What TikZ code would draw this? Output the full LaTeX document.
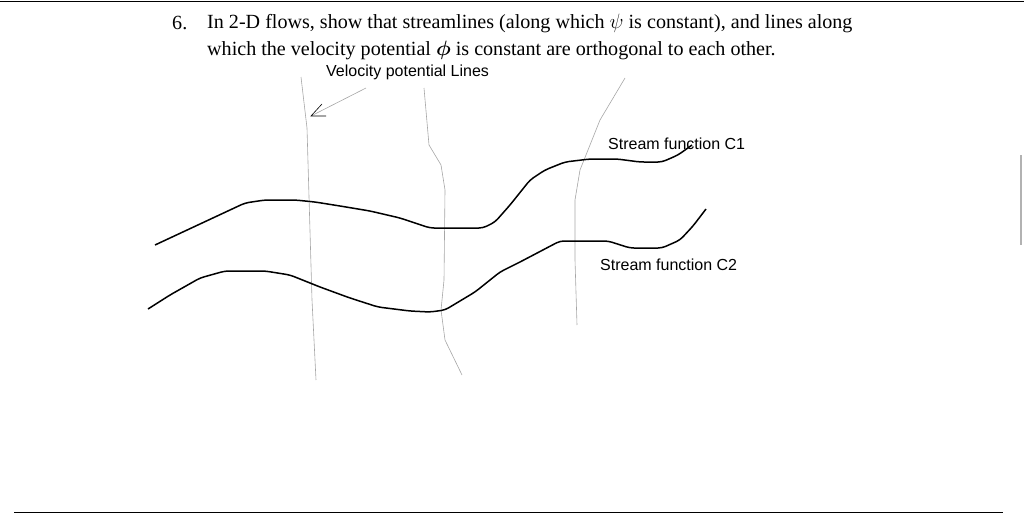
\documentclass[tikz,border=0pt]{standalone}
\usepackage{fontspec}
\setmainfont{Liberation Serif}
\newfontfamily\arial{Liberation Sans}
\begin{document}
\begin{tikzpicture}[x=1pt,y=-1pt,
  stream/.style={black,line width=1.5pt,line join=round,rounded corners=4pt},
  vpl/.style={gray!70,line width=0.6pt},
  lbl/.style={font=\arial\fontsize{16}{18}\selectfont,anchor=west,inner sep=0},
  qtext/.style={anchor=west,inner sep=0,font=\fontsize{20.1}{23}\selectfont}]
\useasboundingbox (0,0) rectangle (1024,514);
\draw[black,line width=0.8pt] (0,1) -- (1024,1);
\draw[black,line width=0.6pt] (14,512) -- (1003,512);
\draw[gray!60,line width=1.5pt] (1021,155) -- (1021,245);
\node[qtext] (q1) at (172,23) {6.};
\node[qtext] (q2) at (207,23) {In 2-D flows, show that streamlines (along which $\psi$ is constant), and lines along};
\node[qtext] (q3) at (207,50) {which the velocity potential {\boldmath$\phi$} is constant are orthogonal to each other.};
\node[lbl] (vl) at (326,72) {Velocity potential Lines};
\node[lbl] (c1) at (608,144) {Stream function C1};
\node[lbl] (c2) at (600,265) {Stream function C2};
\draw[vpl] (301,77) -- (307,128) -- (312,300) -- (316,380);
\draw[vpl] (424,88) -- (429,145) -- (441,165) -- (445,190) -- (444,280) -- (441,310) -- (445,340) -- (462,375);
\draw[vpl] (625,78) -- (600,120) -- (590,145) -- (580,170) -- (575,200) -- (575,260) -- (577,325);
\coordinate (at) at (366,88);
\coordinate (ah) at (311,116);
\draw[vpl] (at) -- (ah);
\draw[black,line width=0.6pt] (322,104) -- (ah) -- (326,116);
\draw[stream] (155,245) -- (245,203) -- (265,200) -- (295,200) -- (315,202) -- (340,206) -- (370,211) -- (400,218) -- (430,228) -- (483,228) -- (495,222) -- (510,205) -- (530,180) -- (545,170) -- (565,162) -- (590,159) -- (617,159) -- (640,162) -- (662,162) -- (678,155) -- (692,145);
\draw[stream] (148,309) -- (170,295) -- (200,278) -- (225,271) -- (265,271) -- (290,275) -- (320,287) -- (350,298) -- (378,307) -- (410,311) -- (430,312) -- (445,310) -- (475,292) -- (500,272) -- (520,262) -- (560,241) -- (608,241) -- (630,248) -- (662,248) -- (680,240) -- (693,226) -- (706,209);
\end{tikzpicture}
\end{document}
